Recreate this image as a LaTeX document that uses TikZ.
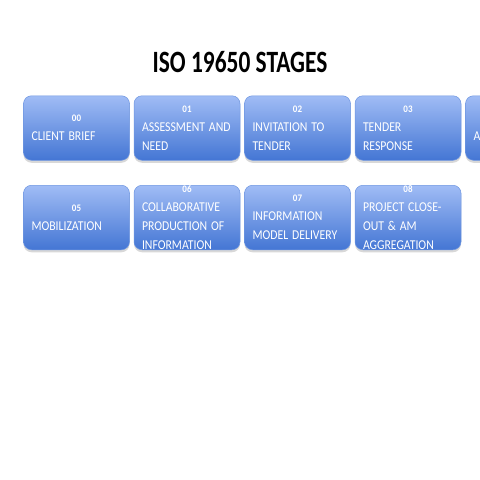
\documentclass[tikz,border=0pt]{standalone}
\usepackage{graphicx}
\usepackage{fontspec}
\setmainfont{Carlito}
\usetikzlibrary{shadows}
\definecolor{boxtop}{RGB}{160,188,245}
\definecolor{boxbot}{RGB}{68,118,212}
\definecolor{boxedge}{RGB}{110,150,225}
\newcommand\stnum[1]{\makebox[90pt]{\bfseries\fontsize{10}{10}\selectfont\scalebox{0.9}[1]{#1}}}
\newcommand\stln[1]{\scalebox{0.87}[1]{#1}}
\begin{document}
\begin{tikzpicture}[x=1pt,y=-1pt,
  stagebox/.style={draw=boxedge, line width=0.5pt, rounded corners=8pt,
    top color=boxtop, bottom color=boxbot, minimum width=106pt,
    minimum height=64.5pt, inner sep=0pt,
    drop shadow={shadow xshift=0pt, shadow yshift=-2.5pt, opacity=0.3}},
  stagetext/.style={text=white, align=left, text width=100pt, inner sep=0pt,
    font=\fontsize{13.5}{19}\selectfont},
  titletext/.style={font=\fontsize{31}{32}\selectfont\bfseries, inner sep=0pt}]
\useasboundingbox (0,0) rectangle (480,480);
\clip (0,0) rectangle (480,480);
\fill[white] (0,0) rectangle (480,480);
\node[titletext, anchor=base] (title) at (240,72.5) {\scalebox{0.755}[1]{ISO 19650 STAGES}};
% row 1
\node[stagebox] (b0) at (76.5,128) {};
\node[stagebox] (b1) at (187,128) {};
\node[stagebox] (b2) at (297.5,128) {};
\node[stagebox] (b3) at (408,128) {};
\node[stagebox] (b4) at (518.5,128) {};
% row 2
\node[stagebox] (b5) at (76.5,217.5) {};
\node[stagebox] (b6) at (187,217.5) {};
\node[stagebox] (b7) at (297.5,217.5) {};
\node[stagebox] (b8) at (408,217.5) {};
% texts
\node[stagetext] (t0) at ([xshift=5pt]b0.center) {\stnum{00}\\\stln{CLIENT BRIEF}};
\node[stagetext] (t1) at ([xshift=5pt]b1.center) {\stnum{01}\\\stln{ASSESSMENT AND}\\\stln{NEED}};
\node[stagetext] (t2) at ([xshift=5pt]b2.center) {\stnum{02}\\\stln{INVITATION TO}\\\stln{TENDER}};
\node[stagetext] (t3) at ([xshift=5pt]b3.center) {\stnum{03}\\\stln{TENDER}\\\stln{RESPONSE}};
\node[stagetext] (t4) at ([xshift=5pt]b4.center) {\stnum{04}\\\stln{APPOINTMENT}};
\node[stagetext] (t5) at ([xshift=5pt]b5.center) {\stnum{05}\\\stln{MOBILIZATION}};
\node[stagetext] (t6) at ([xshift=5pt]b6.center) {\stnum{06}\\\stln{COLLABORATIVE}\\\stln{PRODUCTION OF}\\\stln{INFORMATION}};
\node[stagetext] (t7) at ([xshift=5pt]b7.center) {\stnum{07}\\\stln{INFORMATION}\\\stln{MODEL DELIVERY}};
\node[stagetext] (t8) at ([xshift=5pt]b8.center) {\stnum{08}\\\stln{PROJECT CLOSE-}\\\stln{OUT \& AM}\\\stln{AGGREGATION}};
\end{tikzpicture}
\end{document}
